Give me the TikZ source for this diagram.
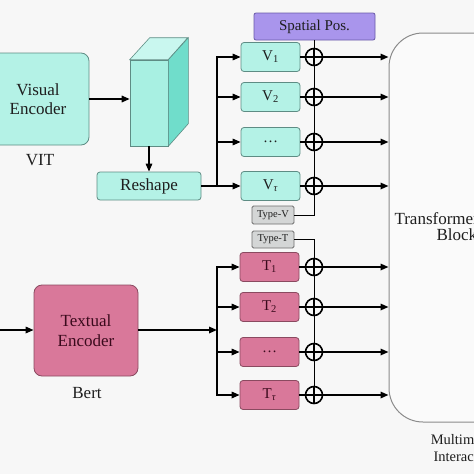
\documentclass[tikz,border=0pt]{standalone}
\usepackage{fontspec}
\setmainfont{Liberation Serif}
\usetikzlibrary{arrows.meta}
\definecolor{bg}{HTML}{F7F7F7}
\definecolor{boxbg}{HTML}{FAFAFA}
\definecolor{cyanfill}{HTML}{B4F2E6}
\definecolor{cyanline}{HTML}{5E8C84}
\definecolor{cubefront}{HTML}{A8F0E2}
\definecolor{cubeside}{HTML}{70DDCB}
\definecolor{cubetop}{HTML}{C9F7EF}
\definecolor{pinkfill}{HTML}{D9789A}
\definecolor{pinkline}{HTML}{8A4A60}
\definecolor{pinktext}{HTML}{3A0A1C}
\definecolor{purfill}{HTML}{A995EC}
\definecolor{purline}{HTML}{6A5AA8}
\definecolor{grayfill}{HTML}{D4D6D6}
\definecolor{grayline}{HTML}{6E6E6E}
\definecolor{txt}{HTML}{1E1E1E}
\begin{document}
\begin{tikzpicture}[x=1pt,y=-1pt,
  big/.style={font=\fontsize{17}{19.5}\selectfont, text=txt},
  mid/.style={font=\fontsize{15}{17}\selectfont, text=txt},
  small/.style={font=\fontsize{10.5}{12}\selectfont, text=txt},
  mmcap/.style={font=\fontsize{14.5}{16.5}\selectfont, text=txt, align=center},
  visbox/.style={draw=cyanline, fill=cyanfill, line width=0.8pt, inner sep=0pt},
  txtbox/.style={draw=pinkline, fill=pinkfill, line width=0.8pt, inner sep=0pt, text=pinktext},
  typebox/.style={draw=grayline, fill=grayfill, line width=0.8pt, rounded corners=1.5pt, inner sep=0pt, minimum width=42pt, small},
  tokbox/.style={minimum width=59pt, minimum height=29pt, rounded corners=3pt, mid},
  arr/.style={line width=1.6pt, -{Triangle[length=8pt,width=6.5pt]}},
  ln/.style={line width=1.6pt},
  thinln/.style={line width=0.9pt},
  plus/.style={circle, draw, line width=1.6pt, minimum size=17pt, inner sep=0pt,
    path picture={\draw[line width=1.3pt] (path picture bounding box.north) -- (path picture bounding box.south)
      (path picture bounding box.west) -- (path picture bounding box.east);}}
]
\useasboundingbox (0,0) rectangle (474,474);
\clip (0,0) rectangle (474,474);
\fill[bg] (0,0) rectangle (474,474);

% transformer block
\node[draw=grayline!80, fill=boxbg, line width=1pt, rounded corners=34pt, minimum width=171pt, minimum height=389pt, inner sep=0pt] (tb) at (474.5,227.5) {};
\node[big, anchor=west] (tbl1) at (391,219) {Transformer};
\node[big, anchor=west] (tbl2) at (433,235) {Blocks};
\node[mmcap] (mm) at (465,448) {Multimodal\\Interaction};

% visual branch
\node[visbox, rounded corners=8pt, minimum width=102pt, minimum height=92pt, big, align=center] (encv) at (38,99) {Visual\\Encoder};
\node[big] (vit) at (40,160) {VIT};
\node[draw=cyanline, fill=cubefront, line width=0.6pt, minimum width=38pt, minimum height=86pt, inner sep=0pt] (cube) at (149,103) {};
\draw[draw=cyanline, fill=cubetop, line width=0.6pt] (cube.north west) -- ++(20,-22) -- ++(38,0) -- (cube.north east) -- cycle;
\draw[draw=cyanline, fill=cubeside, line width=0.6pt] (cube.north east) -- ++(20,-22) -- ++(0,86) -- (cube.south east) -- cycle;
\draw[arr] (encv.east) -- (encv.east -| cube.west);
\node[visbox, rounded corners=3pt, minimum width=104pt, minimum height=28pt, big] (reshape) at (149,186) {Reshape};
\draw[arr] (cube.south) -- (reshape.north);

\node[draw=purline, fill=purfill, line width=0.8pt, rounded corners=2pt, minimum width=121pt, minimum height=27pt, inner sep=0pt, mid] (sp) at (314.5,26.5) {Spatial Pos.};

\node[visbox, tokbox] (v1) at (270.5,57) {V\textsubscript{1}};
\node[visbox, tokbox] (v2) at (270.5,97) {V\textsubscript{2}};
\node[visbox, tokbox] (v3) at (270.5,142) {\ldots};
\node[visbox, tokbox] (v4) at (270.5,186) {V\textsubscript{\textit{τ}}};
\node[typebox, minimum height=18pt] (typev) at (273,215) {Type-V};

\coordinate (bv) at (217,186);
\draw[ln] (reshape.east) -- (bv);
\draw[arr] (bv) |- (v1.west);
\draw[arr] (bv) |- (v2.west);
\draw[arr] (bv) |- (v3.west);
\draw[arr] (bv) -- (v4.west);

\node[plus] (cv1) at (314,57) {};
\node[plus] (cv2) at (314,97) {};
\node[plus] (cv3) at (314,142) {};
\node[plus] (cv4) at (314,186) {};
\draw[thinln] (sp.south -| cv1) -- (cv1.north);
\draw[thinln] (cv1.south) -- (cv2.north) (cv2.south) -- (cv3.north) (cv3.south) -- (cv4.north);
\draw[thinln] (cv4.south) |- (typev.east);
\foreach \i in {1,2,3,4} {
  \draw[ln] (v\i.east) -- (cv\i.west);
  \draw[arr] (cv\i.east) -- (cv\i -| tb.west);
}

% textual branch
\node[txtbox, rounded corners=8pt, minimum width=104pt, minimum height=91pt, big, align=center, text=pinktext] (enct) at (86,330.5) {Textual\\Encoder};
\node[big] (bert) at (87,393) {Bert};
\coordinate (tin) at (0,330);
\draw[arr] (tin) -- (tin -| enct.west);
\coordinate (bt) at (217,330);
\draw[arr] (enct.east |- bt) -- (bt);

\node[typebox, minimum height=17pt] (typet) at (273,239.5) {Type-T};
\node[txtbox, tokbox, text=pinktext] (t1) at (269.5,267) {T\textsubscript{1}};
\node[txtbox, tokbox, text=pinktext] (t2) at (269.5,307) {T\textsubscript{2}};
\node[txtbox, tokbox, text=pinktext] (t3) at (269.5,352) {\ldots};
\node[txtbox, tokbox, text=pinktext] (t4) at (269.5,395) {T\textsubscript{\textit{τ}}};

\draw[arr] (bt) |- (t1.west);
\draw[arr] (bt) |- (t2.west);
\draw[arr] (bt) |- (t3.west);
\draw[arr] (bt) |- (t4.west);

\node[plus] (ct1) at (314,267) {};
\node[plus] (ct2) at (314,307) {};
\node[plus] (ct3) at (314,352) {};
\node[plus] (ct4) at (314,395) {};
\draw[thinln] (typet.east) -| (ct1.north);
\draw[thinln] (ct1.south) -- (ct2.north) (ct2.south) -- (ct3.north) (ct3.south) -- (ct4.north);
\foreach \i in {1,2,3,4} {
  \draw[ln] (t\i.east) -- (ct\i.west);
  \draw[arr] (ct\i.east) -- (ct\i -| tb.west);
}
\end{tikzpicture}
\end{document}
